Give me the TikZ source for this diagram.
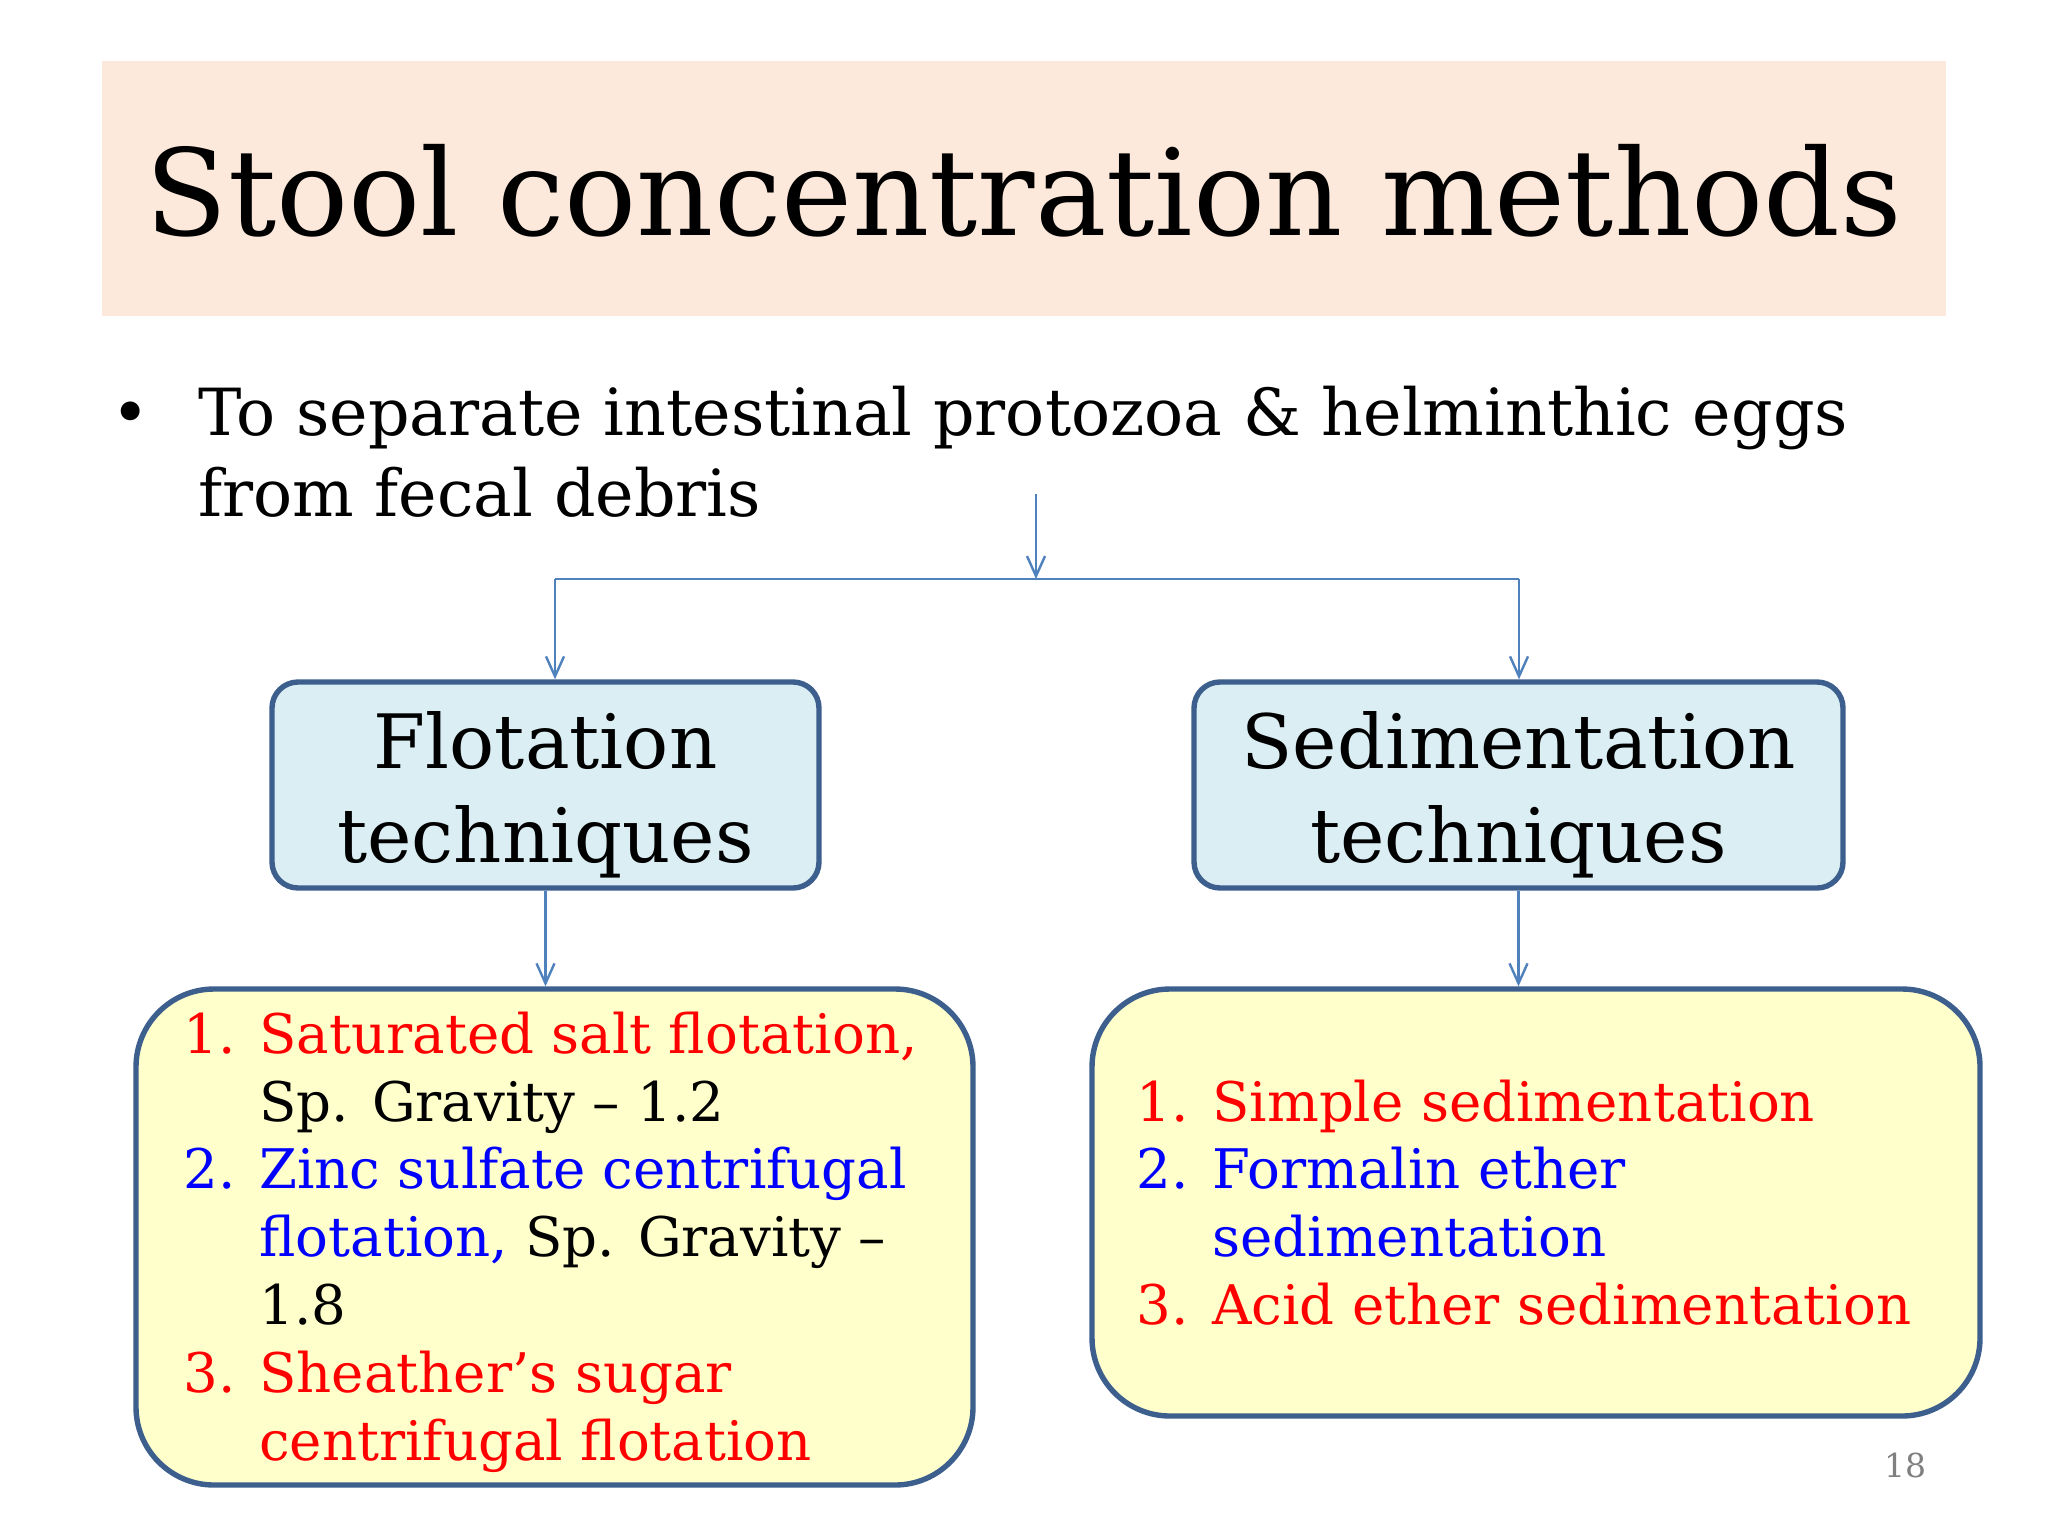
\documentclass[tikz,border=0pt]{standalone}
\usepackage{fontspec}
\setmainfont{DejaVu Serif}
\usetikzlibrary{arrows.meta}
\definecolor{band}{HTML}{FCE9DC}
\definecolor{bluefill}{HTML}{DAEEF3}
\definecolor{boxline}{HTML}{3C5F8E}
\definecolor{yellowfill}{HTML}{FFFFCC}
\definecolor{arrowcol}{HTML}{4F81BD}
\definecolor{itemred}{HTML}{FF0000}
\definecolor{itemblue}{HTML}{0000FF}
\definecolor{pagegray}{HTML}{808080}
\tikzset{
  techbox/.style={draw=boxline, line width=2.7pt, fill=bluefill, rounded corners=13pt, inner sep=0pt},
  listbox/.style={draw=boxline, line width=2.7pt, fill=yellowfill, rounded corners=39pt, inner sep=0pt},
  conn/.style={draw=arrowcol, line width=1.2pt},
  arr/.style={conn, -{Straight Barb[length=10pt,width=9pt,line width=1.2pt]}},
  techtext/.style={anchor=base, inner sep=0pt, font=\fontsize{37.5pt}{47pt}\selectfont},
  listtext/.style={anchor=base west, inner sep=0pt, font=\fontsize{27.3pt}{34pt}\selectfont},
}
\begin{document}
\begin{tikzpicture}[x=0.5pt,y=-0.5pt]
\useasboundingbox (0,0) rectangle (2048,1536);
\fill[white] (0,0) rectangle (2048,1536);
\fill[band] (102,61) rectangle (1946,316);
\node[anchor=base, inner sep=0pt, font=\fontsize{60pt}{72pt}\selectfont] (title) at (1024,235) {Stool concentration methods};
\node[anchor=base, inner sep=0pt, font=\fontsize{32.5pt}{40pt}\selectfont] (bullet) at (131,435) {•};
\node[anchor=base west, inner sep=0pt, font=\fontsize{32.5pt}{40pt}\selectfont] (intro1) at (198,435) {To separate intestinal protozoa \& helminthic eggs};
\node[anchor=base west, inner sep=0pt, font=\fontsize{32.5pt}{40pt}\selectfont] (intro2) at (198,516) {from fecal debris};

% boxes
\node[techbox, minimum width=273.5pt, minimum height=103pt] (flot) at (545.5,785) {};
\node[techbox, minimum width=324.5pt, minimum height=103pt] (sed) at (1518.5,785) {};
\node[listbox, minimum width=418.5pt, minimum height=248pt] (flotlist) at (554.5,1237) {};
\node[listbox, minimum width=444pt, minimum height=213.5pt] (sedlist) at (1536,1202.5) {};

\node[techtext] (flot1) at (545.5,768) {Flotation};
\node[techtext] (flot2) at (545.5,862) {techniques};
\node[techtext] (sed1) at (1518.5,768) {Sedimentation};
\node[techtext] (sed2) at (1518.5,862) {techniques};

% connectors
\coordinate (start) at (1036,494);
\coordinate (split) at (1036,579);
\coordinate (lj) at (555,579);
\coordinate (rj) at (1519,579);
\draw[arr] (start) -- (split);
\draw[conn] (lj) -- (rj);
\draw[arr] (lj) -- (lj |- flot.north);
\draw[arr] (rj) -- (rj |- sed.north);
\draw[arr] (flot.south) -- (flot.south |- flotlist.north);
\draw[arr] (sed.south) -- (sed.south |- sedlist.north);

% left list
\node[listtext, text=itemred] (ln1) at (183,1053) {1.};
\node[listtext, text=itemred] (lt1) at (259,1053) {Saturated salt flotation,};
\node[listtext] (lt1b) at (259,1121) {Sp. Gravity – 1.2};
\node[listtext, text=itemblue] (ln2) at (183,1188) {2.};
\node[listtext, text=itemblue] (lt2) at (259,1188) {Zinc sulfate centrifugal};
\node[listtext] (lt2b) at (259,1256) {\textcolor{itemblue}{flotation,} Sp. Gravity –};
\node[listtext] (lt2c) at (259,1324) {1.8};
\node[listtext, text=itemred] (ln3) at (183,1392) {3.};
\node[listtext, text=itemred] (lt3) at (259,1392) {Sheather’s sugar};
\node[listtext, text=itemred] (lt3b) at (259,1460) {centrifugal flotation};

% right list
\node[listtext, text=itemred] (rn1) at (1136,1121) {1.};
\node[listtext, text=itemred] (rt1) at (1212,1121) {Simple sedimentation};
\node[listtext, text=itemblue] (rn2) at (1136,1188) {2.};
\node[listtext, text=itemblue] (rt2) at (1212,1188) {Formalin ether};
\node[listtext, text=itemblue] (rt2b) at (1212,1256) {sedimentation};
\node[listtext, text=itemred] (rn3) at (1136,1324) {3.};
\node[listtext, text=itemred] (rt3) at (1212,1324) {Acid ether sedimentation};

\node[anchor=base, inner sep=0pt, text=pagegray, font=\fontsize{16.5pt}{20pt}\selectfont] (page) at (1905,1477) {18};
\end{tikzpicture}
\end{document}
